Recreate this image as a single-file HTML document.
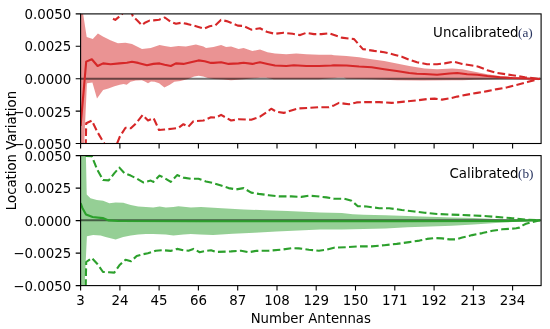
<!DOCTYPE html>
<html><head><meta charset="utf-8"><title>Location Variation</title>
<style>html,body{margin:0;padding:0;background:#fff}svg{display:block}</style></head>
<body>
<svg width="550" height="329" viewBox="0 0 550 329">
<defs><clipPath id="c1"><rect x="80.6" y="13.9" width="460.5" height="129.6"/></clipPath><clipPath id="c2"><rect x="80.6" y="155.6" width="460.5" height="130.0"/></clipPath></defs>
<rect width="550" height="329" fill="#fff"/>
<g clip-path="url(#c1)">
<path d="M80.6 -2.6 L86.7 37.0 L92.8 38.9 L97.9 33.4 L102.9 36.4 L110.4 40.2 L117.9 43.2 L125.5 42.7 L132.0 44.1 L142.0 48.9 L150.8 47.9 L159.6 45.1 L164.6 45.9 L170.8 47.1 L178.4 45.9 L185.9 46.4 L195.9 44.6 L203.5 46.4 L206.0 47.9 L213.5 47.1 L221.1 45.1 L226.1 47.1 L231.1 46.6 L238.6 49.1 L243.6 47.9 L252.4 50.9 L260.0 49.6 L267.5 52.2 L275.0 53.4 L286.3 54.2 L296.3 53.4 L306.4 54.2 L318.9 54.7 L331.5 54.7 L334.0 55.2 L346.5 55.9 L359.1 57.2 L371.6 59.2 L384.2 60.9 L396.7 63.4 L409.3 66.0 L416.8 67.2 L424.5 68.5 L437.1 69.2 L452.2 68.5 L462.2 69.2 L477.2 72.2 L487.3 74.2 L499.8 76.0 L512.4 77.2 L540.0 79.0 L540.0 79.0 L499.8 79.3 L474.7 79.8 L462.2 80.3 L451.9 80.3 L421.8 80.5 L396.7 80.3 L371.6 79.3 L346.5 78.8 L344.0 77.7 L337.7 77.7 L318.9 79.3 L293.8 79.3 L273.8 79.3 L266.2 77.7 L260.0 77.7 L243.6 79.3 L231.1 80.3 L223.0 79.5 L213.9 79.0 L207.8 78.0 L203.2 76.4 L198.7 75.7 L194.1 76.4 L188.0 79.0 L180.4 81.0 L174.3 81.8 L169.8 84.8 L164.4 87.6 L159.1 83.3 L154.6 81.8 L151.0 81.5 L148.0 83.3 L144.9 81.5 L141.9 80.3 L135.8 80.6 L130.5 81.8 L126.7 84.8 L123.6 84.1 L119.8 84.8 L114.5 86.3 L108.4 88.6 L103.1 90.1 L97.0 98.5 L92.4 82.5 L87.1 83.3 L86.9 84.0 L80.6 222.0Z" fill="#d62728" fill-opacity="0.5"/>
<line x1="80.6" x2="541.1" y1="78.8" y2="78.8" stroke="#000" stroke-opacity="0.55" stroke-width="2.1"/>
<path d="M80.6 126.0 L86.2 61.6 L91.8 59.2 L97.6 66.0 L103.1 63.4 L110.6 64.2 L119.4 63.4 L126.9 62.7 L132.0 61.7 L138.2 62.9 L147.0 65.2 L153.3 63.9 L159.6 63.4 L164.6 64.7 L170.8 66.0 L175.9 63.4 L183.4 63.9 L190.9 62.2 L198.5 60.4 L204.7 61.2 L211.0 62.9 L213.5 62.9 L221.1 62.2 L228.6 63.9 L238.6 63.4 L243.6 62.7 L252.4 63.9 L260.0 62.2 L267.5 63.9 L275.0 65.5 L286.3 66.0 L293.8 65.2 L306.4 66.0 L318.9 66.0 L331.5 65.5 L334.0 65.2 L346.5 65.5 L359.1 66.5 L371.6 67.2 L384.2 69.2 L396.7 71.0 L409.3 73.0 L416.8 73.7 L424.5 74.0 L437.1 74.7 L449.6 73.5 L457.2 73.0 L467.2 74.2 L477.2 74.7 L487.3 76.0 L499.8 77.2 L512.4 78.0 L540.0 79.0" fill="none" stroke="#d62728" stroke-width="2.1" stroke-linejoin="round"/>
<path d="M113.0 18.7 L115.3 19.9 L119.8 16.2 L122.1 14.0 L124.0 9.0 M130.5 9.0 L132.8 16.3 L137.3 20.6 L141.9 25.2 L144.9 22.8 L149.5 20.6 L153.5 20.4 L159.1 19.7 L164.8 17.5 L170.4 21.6 L176.0 23.8 L181.6 22.7 L187.2 23.9 L192.8 25.3 L198.4 27.0 L204.0 28.6 L209.6 26.3 L215.3 25.3 L220.9 19.9 L226.5 21.1 L232.1 23.2 L237.7 25.6 L243.5 26.0 L251.2 29.6 L260.0 28.3 L267.5 32.1 L275.0 33.8 L283.8 32.8 L292.6 33.8 L300.1 35.1 L306.4 32.8 L313.9 34.1 L321.4 34.1 L329.0 33.3 L339.0 36.6 L341.5 37.6 L354.1 39.1 L357.8 43.4 L362.9 49.1 L374.2 50.9 L384.2 52.2 L394.2 54.7 L401.8 56.7 L409.3 59.7 L417.0 62.2 L427.1 64.2 L437.1 64.2 L444.6 63.4 L453.4 61.7 L462.2 63.9 L472.2 65.5 L478.5 66.7 L487.3 70.2 L497.3 73.0 L512.4 75.2 L524.9 77.2 L540.0 79.0" fill="none" stroke="#d62728" stroke-width="2.1" stroke-dasharray="7.7 3.3" stroke-linejoin="round"/>
<path d="M80.6 400.0 L86.2 123.3 L91.8 120.6 L97.4 132.0 L103.0 141.5 L108.7 150.0 L114.3 150.2 L119.9 136.5 L125.5 127.8 L130.8 128.3 L136.4 123.0 L142.6 115.0 L148.0 120.5 L153.6 118.2 L159.0 130.0 L164.6 129.5 L172.1 128.7 L178.4 128.0 L183.4 124.2 L188.4 126.7 L193.4 121.2 L203.5 120.5 L211.0 117.2 L216.0 117.5 L221.1 114.9 L231.1 120.5 L238.6 119.2 L251.2 119.7 L260.0 116.7 L267.5 111.7 L271.2 108.7 L276.3 111.7 L283.8 112.9 L291.3 110.4 L298.8 108.4 L308.9 107.9 L318.9 107.2 L329.0 107.2 L334.0 105.4 L339.0 102.9 L344.0 103.6 L349.1 104.2 L356.6 102.4 L366.6 102.1 L379.2 102.1 L391.7 102.9 L404.3 101.6 L416.8 100.4 L427.1 99.1 L434.6 98.6 L442.1 99.6 L449.6 98.4 L457.2 96.6 L467.2 94.6 L477.2 92.9 L487.3 91.1 L497.3 89.1 L507.4 87.3 L517.4 84.8 L527.4 82.1 L540.0 78.6" fill="none" stroke="#d62728" stroke-width="2.1" stroke-dasharray="7.7 3.3" stroke-linejoin="round"/>
</g>
<g clip-path="url(#c2)">
<path d="M80.6 -106.0 L86.7 194.4 L90.5 198.2 L96.8 199.9 L103.1 200.7 L109.4 203.2 L115.6 202.4 L123.2 202.7 L130.7 204.9 L138.2 206.5 L145.8 207.0 L153.3 207.5 L159.6 206.5 L165.8 207.5 L173.4 207.0 L178.4 206.2 L190.9 207.5 L201.0 207.0 L221.8 208.3 L243.6 209.4 L265.5 210.3 L287.3 210.9 L320.0 212.4 L341.8 213.1 L352.7 214.2 L363.6 214.8 L385.5 215.3 L407.3 215.9 L430.0 216.8 L451.8 217.5 L473.6 218.1 L495.5 219.0 L517.3 219.6 L540.2 220.3 L540.2 220.7 L517.3 221.8 L495.5 222.9 L473.6 224.4 L451.8 225.7 L430.0 226.6 L407.3 227.3 L385.5 228.4 L363.6 229.0 L341.8 229.5 L320.0 229.5 L298.2 230.5 L276.4 231.6 L254.5 232.7 L232.7 233.8 L213.1 234.9 L200.0 234.5 L190.9 234.1 L183.4 234.6 L173.4 235.6 L165.8 234.6 L153.3 233.9 L145.8 233.9 L138.2 234.6 L130.7 235.6 L123.2 237.1 L115.6 239.4 L105.6 237.1 L100.6 235.6 L93.1 235.1 L86.9 236.3 L80.6 372.0Z" fill="#2ca02c" fill-opacity="0.5"/>
<line x1="80.6" x2="541.1" y1="220.3" y2="220.3" stroke="#000" stroke-opacity="0.55" stroke-width="2.1"/>
<path d="M80.6 203.0 L82.4 207.9 L86.0 214.5 L92.6 217.0 L102.8 218.1 L108.7 220.4 L118.0 221.0 L200.0 221.2 L300.0 221.2 L400.0 221.2 L500.0 221.0 L540.2 220.3" fill="none" stroke="#2ca02c" stroke-width="2.1" stroke-linejoin="round"/>
<path d="M80.6 100.0 L86.2 155.9 L91.8 156.3 L97.4 170.0 L103.0 180.0 L108.7 180.4 L114.4 173.1 L119.4 167.6 L124.4 173.1 L130.7 175.6 L137.0 178.6 L143.2 182.4 L150.8 180.6 L153.3 181.9 L159.6 175.6 L164.6 178.1 L170.8 181.9 L177.1 175.1 L183.4 177.6 L190.9 178.8 L198.5 178.8 L206.0 181.4 L213.5 183.1 L221.1 185.6 L228.6 188.1 L236.1 189.4 L243.6 188.1 L251.2 192.6 L258.7 193.9 L268.7 195.2 L278.8 196.4 L291.3 196.4 L301.4 196.9 L308.9 195.7 L316.4 196.2 L326.5 197.4 L334.0 198.7 L344.0 198.7 L351.6 200.7 L357.8 206.2 L366.6 206.5 L379.2 208.2 L389.2 208.2 L401.8 210.0 L414.3 211.5 L424.5 212.7 L437.1 214.0 L462.2 215.0 L487.3 216.2 L512.4 218.2 L524.9 219.5 L540.0 220.3" fill="none" stroke="#2ca02c" stroke-width="2.1" stroke-dasharray="7.7 3.3" stroke-linejoin="round"/>
<path d="M80.6 540.0 L86.2 262.0 L91.8 258.0 L97.4 264.0 L103.0 272.0 L108.7 272.2 L114.3 272.6 L119.9 264.7 L125.5 259.8 L131.1 261.3 L136.7 255.9 L142.3 254.4 L147.9 253.3 L153.5 251.6 L155.8 250.7 L163.3 250.2 L170.8 250.9 L177.1 248.9 L183.4 250.2 L188.4 250.7 L193.4 248.9 L199.7 252.2 L206.0 250.9 L211.0 250.2 L216.0 251.9 L231.1 251.4 L241.1 250.7 L248.7 252.2 L256.2 250.9 L268.7 250.7 L281.3 249.7 L291.3 248.2 L298.8 248.4 L308.9 249.7 L318.9 250.7 L326.5 249.7 L334.0 247.7 L346.5 247.2 L359.1 246.4 L371.6 246.4 L384.2 245.2 L396.7 243.9 L409.3 242.1 L419.5 240.6 L427.1 238.9 L434.6 238.1 L442.1 238.4 L449.6 239.4 L455.9 239.4 L462.2 237.6 L472.2 235.1 L482.3 233.1 L492.3 230.8 L502.3 229.3 L512.4 228.6 L516.2 228.2 L519.4 227.6 L522.7 225.4 L526.0 223.8 L531.4 222.2 L540.2 220.3" fill="none" stroke="#2ca02c" stroke-width="2.1" stroke-dasharray="7.7 3.3" stroke-linejoin="round"/>
</g>
<rect x="80.6" y="13.9" width="460.5" height="129.6" fill="none" stroke="#000" stroke-width="1.1"/>
<rect x="80.6" y="155.6" width="460.5" height="130.0" fill="none" stroke="#000" stroke-width="1.1"/>
<path d="M80.6 143.5 v4.9 M80.6 285.6 v4.9 M119.9 143.5 v4.9 M119.9 285.6 v4.9 M159.1 143.5 v4.9 M159.1 285.6 v4.9 M198.4 143.5 v4.9 M198.4 285.6 v4.9 M237.7 143.5 v4.9 M237.7 285.6 v4.9 M277.0 143.5 v4.9 M277.0 285.6 v4.9 M316.2 143.5 v4.9 M316.2 285.6 v4.9 M355.5 143.5 v4.9 M355.5 285.6 v4.9 M394.8 143.5 v4.9 M394.8 285.6 v4.9 M434.1 143.5 v4.9 M434.1 285.6 v4.9 M473.3 143.5 v4.9 M473.3 285.6 v4.9 M512.6 143.5 v4.9 M512.6 285.6 v4.9 M80.6 13.9 h-4.9 M80.6 46.3 h-4.9 M80.6 78.7 h-4.9 M80.6 111.1 h-4.9 M80.6 143.5 h-4.9 M80.6 155.6 h-4.9 M80.6 188.1 h-4.9 M80.6 220.6 h-4.9 M80.6 253.1 h-4.9 M80.6 285.6 h-4.9" stroke="#000" stroke-width="1.1" fill="none"/>
<g font-family="'DejaVu Sans', 'Liberation Sans', sans-serif" font-size="13.4" fill="#000">
<text x="71.3" y="19.3" text-anchor="end">0.0050</text>
<text x="71.3" y="51.3" text-anchor="end">0.0025</text>
<text x="71.3" y="84.0" text-anchor="end">0.0000</text>
<text x="71.3" y="116.6" text-anchor="end">−0.0025</text>
<text x="71.3" y="148.8" text-anchor="end">−0.0050</text>
<text x="71.3" y="161.0" text-anchor="end">0.0050</text>
<text x="71.3" y="193.2" text-anchor="end">0.0025</text>
<text x="71.3" y="225.8" text-anchor="end">0.0000</text>
<text x="71.3" y="258.4" text-anchor="end">−0.0025</text>
<text x="71.3" y="291.3" text-anchor="end">−0.0050</text>
<text x="80.6" y="304.8" text-anchor="middle">3</text>
<text x="119.9" y="304.8" text-anchor="middle">24</text>
<text x="159.1" y="304.8" text-anchor="middle">45</text>
<text x="198.4" y="304.8" text-anchor="middle">66</text>
<text x="237.7" y="304.8" text-anchor="middle">87</text>
<text x="277.0" y="304.8" text-anchor="middle">108</text>
<text x="316.2" y="304.8" text-anchor="middle">129</text>
<text x="355.5" y="304.8" text-anchor="middle">150</text>
<text x="394.8" y="304.8" text-anchor="middle">171</text>
<text x="434.1" y="304.8" text-anchor="middle">192</text>
<text x="473.3" y="304.8" text-anchor="middle">213</text>
<text x="512.6" y="304.8" text-anchor="middle">234</text>
</g>
<g font-family="'DejaVu Sans', 'Liberation Sans', sans-serif" font-size="13.27" fill="#000">
<text x="310.8" y="322.8" text-anchor="middle">Number Antennas</text>
<text transform="translate(16.2 150.55) rotate(-90)" text-anchor="middle" font-size="13.27">Location Variation</text>
<text x="518.6" y="36.6" text-anchor="end" font-size="13.4">Uncalibrated</text>
<text x="518.6" y="178.2" text-anchor="end" font-size="13.4">Calibrated</text>
</g>
<g font-family="'Liberation Serif', 'DejaVu Serif', serif" font-size="13.3" fill="#27335f">
<text x="518.0" y="36.6">(a)</text>
<text x="518.0" y="178.2">(b)</text>
</g>
</svg>
</body></html>
